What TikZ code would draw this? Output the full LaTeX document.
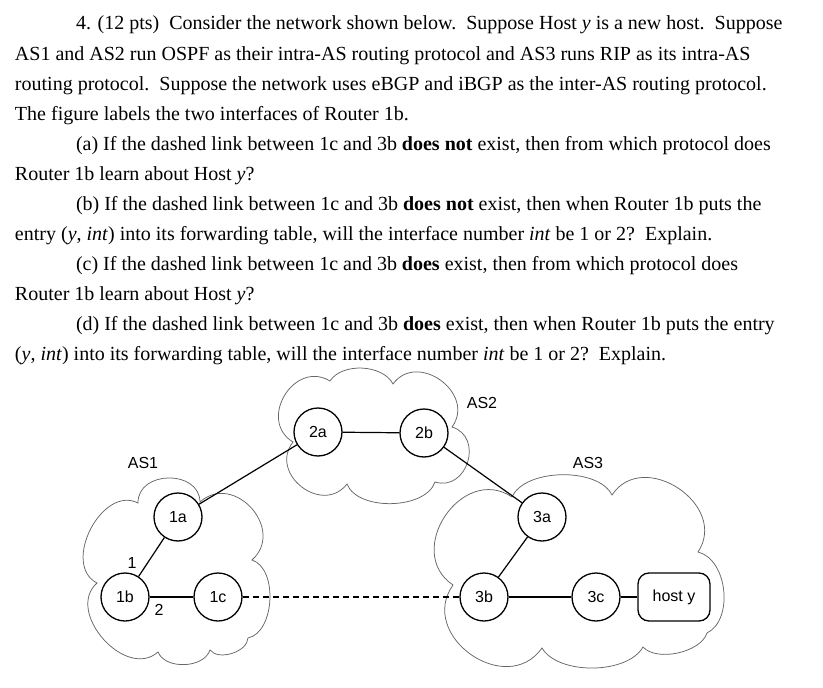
\documentclass[tikz,border=0pt]{standalone}
\usepackage{fontspec}
\setmainfont{Liberation Serif}
\newfontfamily\diagfont{Liberation Sans}
\begin{document}
\begin{tikzpicture}[x=1pt,y=-1pt,
  txtline/.style={anchor=base west, inner sep=0pt, outer sep=0pt, font=\fontsize{20}{24}\selectfont},
  router/.style={circle, draw=black, line width=1.3pt, fill=white, minimum size=48pt, inner sep=0pt, font=\diagfont\fontsize{16}{19}\selectfont},
  hostbox/.style={rectangle, rounded corners=11pt, draw=black, line width=1.3pt, fill=white, minimum width=72pt, minimum height=48pt, inner sep=0pt, font=\diagfont\fontsize{16}{19}\selectfont},
  lbl/.style={inner sep=0pt, font=\diagfont\fontsize{16}{19}\selectfont},
  cloudline/.style={draw=black!60, line width=0.75pt, fill=white},
  link/.style={line width=1.2pt},
  dashlink/.style={line width=1.2pt, dash pattern=on 6pt off 4pt},
]
\useasboundingbox (0,0) rectangle (823,688);

% ---------- text ----------
\node[txtline] (t1)  at (76,30)  {4. (12 pts)\ \ Consider the network shown below.\ \ Suppose Host \textit{y} is a new host.\ \ Suppose};
\node[txtline] (t2)  at (15,60)  {AS1 and AS2 run OSPF as their intra-AS routing protocol and AS3 runs RIP as its intra-AS};
\node[txtline] (t3)  at (15,90)  {routing protocol.\ \ Suppose the network uses eBGP and iBGP as the inter-AS routing protocol.};
\node[txtline] (t4)  at (15,120) {The figure labels the two interfaces of Router 1b.};
\node[txtline] (t5)  at (76,150) {(a) If the dashed link between 1c and 3b \textbf{does not} exist, then from which protocol does};
\node[txtline] (t6)  at (15,180) {Router 1b learn about Host \textit{y}?};
\node[txtline] (t7)  at (76,210) {(b) If the dashed link between 1c and 3b \textbf{does not} exist, then when Router 1b puts the};
\node[txtline] (t8)  at (15,240) {entry (\textit{y}, \textit{int}) into its forwarding table, will the interface number \textit{int} be 1 or 2?\ \ Explain.};
\node[txtline] (t9)  at (76,270) {(c) If the dashed link between 1c and 3b \textbf{does} exist, then from which protocol does};
\node[txtline] (t10) at (15,300) {Router 1b learn about Host \textit{y}?};
\node[txtline] (t11) at (76,330) {(d) If the dashed link between 1c and 3b \textbf{does} exist, then when Router 1b puts the entry};
\node[txtline] (t12) at (15,360) {(\textit{y}, \textit{int}) into its forwarding table, will the interface number \textit{int} be 1 or 2?\ \ Explain.};

% ---------- clouds ----------
% AS1
\draw[cloudline] (97,583) to[bend left=90, looseness=1.15] (138,503)
  to[bend left=90, looseness=1.35] (200,502)
  to[bend left=90, looseness=1.5] (252,560)
  to[bend left=75, looseness=0.9] (248,638)
  to[bend left=70, looseness=0.9] (210,650)
  to[bend left=70, looseness=0.95] (158,652)
  to[bend left=90, looseness=1.2] (97,583) -- cycle;
% AS2
\draw[cloudline] (293,442) to[bend left=90, looseness=1.5] (330,381)
  to[bend left=60, looseness=0.9] (393,384)
  to[bend left=90, looseness=1.45] (452,427)
  to[bend left=90, looseness=1.5] (435,482)
  to[bend left=70, looseness=0.85] (347,484)
  to[bend left=90, looseness=1.5] (293,442) -- cycle;
% AS3
\draw[cloudline] (453,585) to[bend left=90, looseness=1.45] (512,497)
  to[bend left=65, looseness=0.8] (612,495)
  to[bend left=90, looseness=1.4] (698,552)
  to[bend left=70, looseness=0.95] (707,633)
  to[bend left=60, looseness=0.8] (643,647)
  to[bend left=60, looseness=0.8] (542,648)
  to[bend left=90, looseness=1.45] (453,585) -- cycle;

% ---------- labels ----------
\node[lbl] (as1) at (143,463) {AS1};
\node[lbl] (as2) at (482,403) {AS2};
\node[lbl] (as3) at (588,463) {AS3};

% ---------- routers ----------
\node[router] (2a) at (318,432) {2a};
\node[router] (2b) at (424,433) {2b};
\node[router] (1a) at (178,517) {1a};
\node[router] (1b) at (125,597) {1b};
\node[router] (1c) at (218,597) {1c};
\node[router] (3a) at (542,517) {3a};
\node[router] (3b) at (484,597) {3b};
\node[router] (3c) at (596,597) {3c};
\node[hostbox] (hy) at (674,597) {host y};

\node[lbl] (if1) at (132,563) {1};
\node[lbl] (if2) at (159,610) {2};

% ---------- links ----------
\draw[link] (1a) -- (2a);
\draw[link] (2a) -- (2b);
\draw[link] (2b) -- (3a);
\draw[link] (1a) -- (1b);
\draw[link] (1b) -- (1c);
\draw[link] (3a) -- (3b);
\draw[link] (3b) -- (3c);
\draw[link] (3c) -- (hy);
\draw[dashlink] (1c) -- (3b);
\end{tikzpicture}
\end{document}
